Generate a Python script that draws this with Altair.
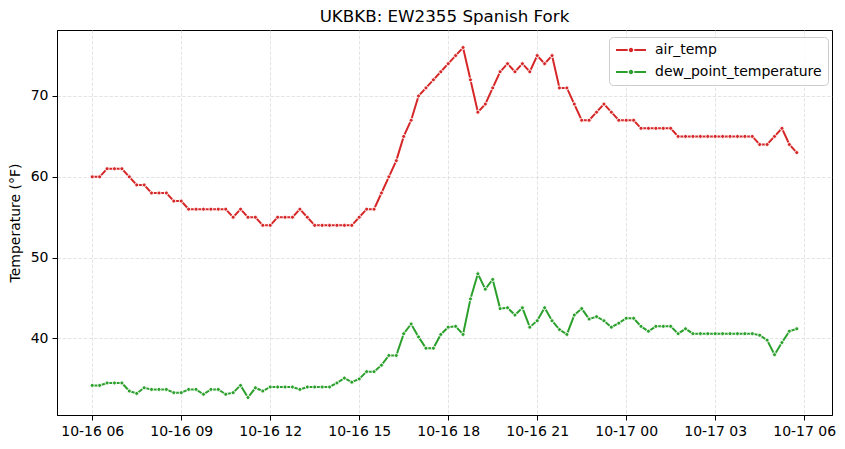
import altair as alt
import pandas as pd

# 15-minute observations, 10-16 06:00 .. 10-17 05:45
times = pd.date_range("2024-10-16 06:00", periods=96, freq="15min").strftime("%Y-%m-%dT%H:%M:%S").tolist()

air_temp = [
    60, 60, 61, 61, 61, 60, 59, 59, 58, 58, 58, 57, 57, 56, 56, 56, 56, 56, 56, 55,
    56, 55, 55, 54, 54, 55, 55, 55, 56, 55, 54, 54, 54, 54, 54, 54, 55, 56, 56, 58,
    60, 62, 65, 67, 70, 71, 72, 73, 74, 75, 76, 72, 68, 69, 71, 73, 74, 73, 74, 73,
    75, 74, 75, 71, 71, 69, 67, 67, 68, 69, 68, 67, 67, 67, 66, 66, 66, 66, 66, 65,
    65, 65, 65, 65, 65, 65, 65, 65, 65, 65, 64, 64, 65, 66, 64, 63,
]

dew_point_temperature = [
    34.2, 34.2, 34.5, 34.5, 34.5, 33.5, 33.2, 33.9, 33.7, 33.7, 33.7, 33.3, 33.3, 33.7, 33.7, 33.1, 33.7, 33.7, 33.1, 33.3,
    34.2, 32.7, 33.9, 33.5, 34.0, 34.0, 34.0, 34.0, 33.7, 34.0, 34.0, 34.0, 34.0, 34.5, 35.1, 34.6, 35.0, 35.9, 35.9, 36.7,
    37.9, 37.9, 40.6, 41.8, 40.2, 38.8, 38.8, 40.5, 41.4, 41.5, 40.5, 44.9, 48.0, 46.1, 47.3, 43.7, 43.8, 42.9, 43.8, 41.4,
    42.2, 43.8, 42.2, 41.1, 40.5, 42.9, 43.7, 42.4, 42.7, 42.2, 41.4, 41.9, 42.5, 42.5, 41.5, 40.9, 41.5, 41.5, 41.5, 40.6,
    41.2, 40.6, 40.6, 40.6, 40.6, 40.6, 40.6, 40.6, 40.6, 40.6, 40.4, 39.8, 38.0, 39.5, 40.9, 41.2,
]

series_names = ["air_temp", "dew_point_temperature"]
series_colors = ["#d62728", "#2ca02c"]

y_ticks = [40, 50, 60, 70]
# x tick positions: (month, day, hour)
x_ticks = [(10, 16, 6), (10, 16, 9), (10, 16, 12), (10, 16, 15), (10, 16, 18),
           (10, 16, 21), (10, 17, 0), (10, 17, 3), (10, 17, 6)]
x_domain = [(10, 16, 4, 48, 45), (10, 17, 6, 56, 15)]
y_domain = [30.535, 78.165]

rows = []
for name, vals in zip(series_names, [air_temp, dew_point_temperature]):
    for t, v in zip(times, vals):
        rows.append({"time": t, "series": name, "value": v})
df = pd.DataFrame(rows)

FONT = "DejaVu Sans"

legend_path = ("M-1,0H-0.22M0.22,0H1"
               "M-0.08,0A0.08,0.08 0 1,0 0.08,0A0.08,0.08 0 1,0 -0.08,0")

x_enc = alt.X(
    "time:T",
    scale=alt.Scale(domain=[alt.DateTime(year=2024, month=m, date=d, hours=h, minutes=mi, seconds=s)
                            for (m, d, h, mi, s) in x_domain], nice=False),
    axis=alt.Axis(
        values=[alt.DateTime(year=2024, month=m, date=d, hours=h) for (m, d, h) in x_ticks],
        format="%m-%d %H", title=None, labelOverlap=False, labelFlush=False,
    ),
)
y_enc = alt.Y(
    "value:Q",
    scale=alt.Scale(domain=y_domain, nice=False, zero=False),
    axis=alt.Axis(values=y_ticks, title="Temperature (°F)", titlePadding=8),
)
color_enc = alt.Color(
    "series:N",
    scale=alt.Scale(domain=series_names, range=series_colors),
    legend=alt.Legend(
        title=None, orient="none", legendX=552, legendY=7,
        symbolType=legend_path, symbolSize=900, symbolStrokeWidth=2,
        clipHeight=14, rowPadding=8, padding=6, labelOffset=8,
        labelFont=FONT, labelFontSize=14, labelColor="black", labelLimit=400,
        strokeColor="#cccccc", fillColor="rgba(255,255,255,0.8)", cornerRadius=4,
    ),
)

base = alt.Chart(df).encode(x=x_enc, y=y_enc, color=color_enc)

lines = base.mark_line(strokeWidth=2)
points = base.mark_circle(size=16, opacity=1, stroke="white", strokeWidth=0.9)

chart = (
    alt.layer(lines, points)
    .properties(
        width=775, height=385,
        autosize=alt.AutoSizeParams(type="none"),
        padding={"left": 57, "top": 30, "right": 13, "bottom": 34},
        title=alt.TitleParams("UKBKB: EW2355 Spanish Fork", font=FONT, fontSize=16.7,
                              fontWeight="normal", color="black", anchor="middle", offset=4),
    )
    .configure_view(stroke="black", strokeWidth=1)
    .configure_axis(
        domainColor="black", tickColor="black", labelColor="black",
        labelFont=FONT, labelFontSize=14, tickSize=5, labelPadding=4,
        titleFont=FONT, titleFontSize=14, titleFontWeight="normal", titleColor="black",
        grid=True, gridColor="#d9d9d9", gridDash=[3.5, 1.7], gridWidth=0.7,
    )
)

chart.save("out.html", embed_options={"renderer": "svg", "actions": False})
